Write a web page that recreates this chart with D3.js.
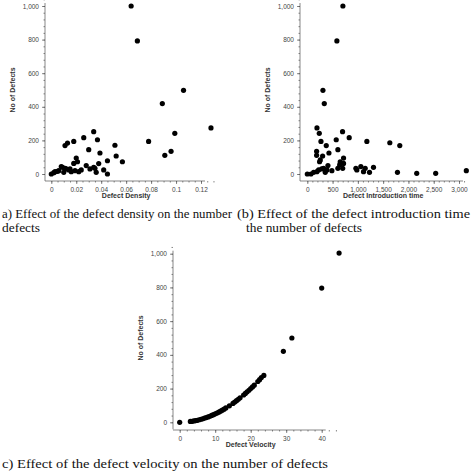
<!DOCTYPE html>
<html><head><meta charset="utf-8">
<script src="https://cdn.jsdelivr.net/npm/d3@7"></script>
<style>body{margin:0;background:#fff}svg{display:block}</style>
</head><body>
<svg id="c" width="474" height="474"></svg>
<script>
const densityX=[0.064,0.069,0.106,0.089,0.128,0.099,0.078,0.096,0.091,0.051,0.052,0.057,0.045,0.045,0.042,0.038,0.039,0.037,0.034,0.030,0.026,0.018,0.013,0.011,0.020,0.021,0.018,0.028,0.034,0.036,0.024,0.022,0.016,0.014,0.011,0.008,0.006,0.003,0.002,0.000,0.010,0.015,0.019,0.031,0.035,0.009,0.012,0.005];
const densityY=[1000,792,498,419,274,242,194,135,111,171,107,73,79,0,24,62,125,204,252,145,216,194,184,169,95,73,63,50,40,10,24,14,14,24,34,44,20,14,8,0,10,30,20,30,34,40,30,16];
const introX=[704,585,309,336,191,237,697,829,270,375,572,605,428,184,184,303,717,1178,1632,1829,243,651,717,408,961,1059,1145,1309,1230,1783,2164,2539,3145,0,72,190,224,322,388,486,605,640,257,355,125,1112,980,700,285];
const introY=[1000,792,498,419,274,242,252,216,194,169,204,145,125,135,111,107,95,194,186,169,73,73,63,50,34,44,34,40,10,10,4,4,20,0,0,14,24,34,24,20,34,54,84,10,10,14,24,34,30];
const velX=[0,44.9,40,31.6,29.2,23.7,3,3.5,4,4.5,5,5.5,6,6.5,7,7.5,8,8.5,9,9.5,10,10.5,11,11.5,12,12.5,13,14,15,15.5,16,16.5,17,18,18.5,19,19.5,20,20.5,21,22,22.5,23];
const velY=[0,1004,796,500,421,278,5,6,8,10,12,15,18,21,25,28,32,36,41,45,50,55,60,66,72,78,85,98,112,120,128,136,145,162,171,181,190,200,210,220,242,253,265];
const xTicksA=[0,0.02,0.04,0.06,0.08,0.1,0.12];
const xTicksB=[0,500,1000,1500,2000,2500,3000];
const xTicksC=[0,10,20,30,40];
const yTicks=[0,200,400,600,800,1000];

const svg=d3.select("#c");
const fmt=d3.format(",");
function panel(o){
  const g=svg.append("g");
  const x=d3.scaleLinear().domain(o.xd).range([o.x0,o.x1]);
  const y=d3.scaleLinear().domain([0,1000]).range([o.y0,o.y1]);
  const ya=g.append("g").attr("transform",`translate(${o.ax},0)`)
    .call(d3.axisLeft(y).tickValues(yTicks).tickFormat(fmt).tickSize(3));
  g.append("g").attr("transform",`translate(${o.ax},0)`)
    .call(d3.axisLeft(y).tickValues(d3.range(0,1041,40)).tickFormat("").tickSize(1.5)).select(".domain").remove();
  ya.select(".domain").attr("d",`M0,${o.y0+7}V${o.y1-3}`);
  const xa=g.append("g").attr("transform",`translate(0,${o.ay})`)
    .call(d3.axisBottom(x).tickValues(o.xt).tickFormat(o.xf).tickSize(3));
  g.append("g").attr("transform",`translate(0,${o.ay})`)
    .call(d3.axisBottom(x).tickValues(o.minor).tickFormat("").tickSize(1.5)).select(".domain").remove();
  xa.select(".domain").attr("d",`M${o.ax},0H${o.x1+4}`);
  g.selectAll(".domain,.tick line").attr("stroke","#555").attr("stroke-width",0.7);
  g.selectAll(".tick text").attr("font-family","Liberation Sans").attr("font-size",6.5).attr("fill","#444");
  g.append("text").attr("x",(o.x0+o.x1)/2).attr("y",o.ay+17).attr("text-anchor","middle")
    .attr("font-family","Liberation Sans").attr("font-weight","bold").attr("font-size",7).attr("fill","#333").text(o.xl);
  g.append("text").attr("transform",`translate(${o.ax-30},${(o.y0+o.y1)/2}) rotate(-90)`).attr("text-anchor","middle")
    .attr("font-family","Liberation Sans").attr("font-weight","bold").attr("font-size",7).attr("fill","#333").text("No of Defects");
  g.selectAll("circle").data(o.xs).join("circle").attr("cx",d=>x(d)).attr("cy",(d,i)=>y(o.ys[i])).attr("r",2.6).attr("fill","#000");
}
panel({xd:[0,0.12],x0:51.3,x1:201,y0:174,y1:6,ax:45,ay:181,xt:xTicksA,xf:d3.format("~g"),minor:d3.range(0,0.1301,0.005),xl:"Defect Density",xs:densityX,ys:densityY});
panel({xd:[0,3000],x0:307.3,x1:459,y0:174,y1:6,ax:300,ay:181,xt:xTicksB,xf:fmt,minor:d3.range(0,3101,100),xl:"Defect Introduction time",xs:introX,ys:introY});
panel({xd:[0,40],x0:179.7,x1:321.7,y0:422.3,y1:253.7,ax:173,ay:430,xt:xTicksC,xf:d3.format("d"),minor:d3.range(0,46,2),xl:"Defect Velocity",xs:velX,ys:velY});

const cap=[["a) Effect of the defect density on the number",2,218,230],["defects",2,232,38],["(b) Effect of the defect introduction time",237,218,233],["the number of defects",246,232,116],["c) Effect of the defect velocity on the number of defects",2,468,326]];
svg.selectAll("text.cap").data(cap).join("text").attr("class","cap").attr("x",d=>d[1]).attr("y",d=>d[2])
  .attr("textLength",d=>d[3]).attr("lengthAdjust","spacingAndGlyphs")
  .attr("font-family","Liberation Serif").attr("font-size",13).attr("fill","#111").text(d=>d[0]);
</script></body></html>
